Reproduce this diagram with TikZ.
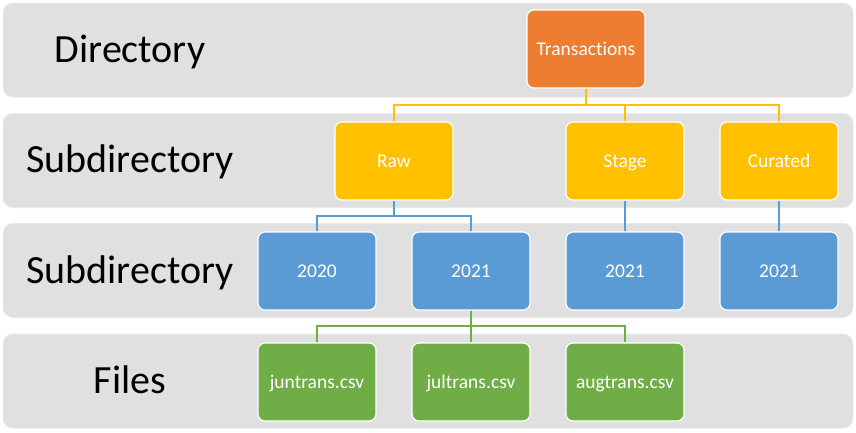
\documentclass[tikz,border=0pt]{standalone}
\usepackage{fontspec}
\setmainfont{Carlito}[Ligatures=NoCommon]
\definecolor{bandgray}{HTML}{E0E0E0}
\definecolor{bandedge}{HTML}{EAEAEA}
\definecolor{orng}{HTML}{ED7D31}
\definecolor{yllw}{HTML}{FFC000}
\definecolor{blu}{HTML}{5B9BD5}
\definecolor{grn}{HTML}{70AD47}
\begin{document}
\begin{tikzpicture}[x=1pt,y=-1pt,
  band/.style={draw=bandedge, line width=1pt, fill=bandgray, rounded corners=10pt,
    minimum width=850pt, minimum height=94pt, inner sep=0pt},
  lbl/.style={text=black, font=\fontsize{40}{48}\selectfont, inner sep=0pt,
    text height=26pt, text depth=0pt},
  box/.style={draw=white, line width=1.2pt, rounded corners=7pt, minimum width=118pt,
    minimum height=78pt, inner sep=0pt, text=white, font=\fontsize{19.5}{23}\selectfont,
    text height=12.6pt, text depth=0pt},
  yl/.style={draw=yllw, line width=1.5pt},
  bl/.style={draw=blu, line width=1.5pt},
  gl/.style={draw=grn, line width=1.5pt}]
\useasboundingbox (0,0) rectangle (856,432);
% bands
\node[band] (b1) at (428,50) {};
\node[band] (b2) at (428,160.5) {};
\node[band] (b3) at (428,270.5) {};
\node[band] (b4) at (428,381) {};
% band labels
\node[lbl] (l1) at (130,49) {Directory};
\node[lbl] (l2) at (130,159) {Subdirectory};
\node[lbl] (l3) at (130,270) {Subdirectory};
\node[lbl] (l4) at (130,380) {Files};
% junctions
\coordinate (j1) at (586,105);
\coordinate (j2) at (394,216);
\coordinate (j3) at (471,326);
% boxes
\node[box, fill=orng] (t) at (586,49) {Transactions};
\node[box, fill=yllw] (raw) at (394,161) {Raw};
\node[box, fill=yllw] (stage) at (625,161) {Stage};
\node[box, fill=yllw] (cur) at (779,161) {Curated};
\node[box, fill=blu] (y20) at (317,271) {2020};
\node[box, fill=blu] (y21) at (471,271) {2021};
\node[box, fill=blu] (s21) at (625,271) {2021};
\node[box, fill=blu] (c21) at (779,271) {2021};
\node[box, fill=grn] (jun) at (317,382) {juntrans.csv};
\node[box, fill=grn] (jul) at (471,382) {jultrans.csv};
\node[box, fill=grn] (aug) at (625,382) {augtrans.csv};
% connectors
\draw[yl] (t.south) -- (j1);
\draw[yl] (raw.north) |- (j1) -| (cur.north);
\draw[yl] (stage.north) -- (stage.north |- j1);
\draw[bl] (raw.south) -- (j2);
\draw[bl] (y20.north) |- (j2) -| (y21.north);
\draw[bl] (stage.south) -- (s21.north);
\draw[bl] (cur.south) -- (c21.north);
\draw[gl] (y21.south) -- (jul.north);
\draw[gl] (jun.north) |- (j3) -| (aug.north);
\end{tikzpicture}
\end{document}
